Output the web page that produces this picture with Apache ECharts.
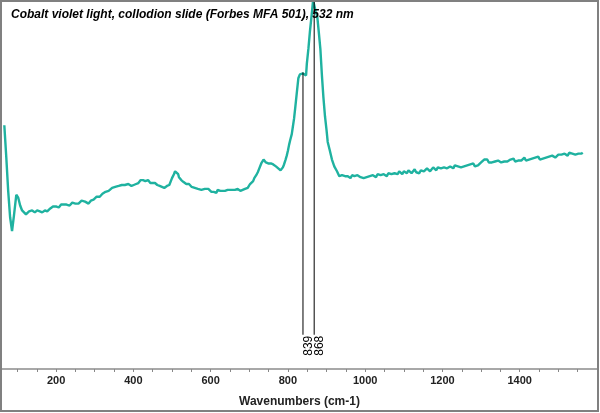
<!DOCTYPE html>
<html>
<head>
<meta charset="utf-8">
<script src="https://cdn.jsdelivr.net/npm/echarts@6/dist/echarts.min.js"></script>
<style>
  html, body { margin: 0; padding: 0; background: #fff; }
  #chart { width: 600px; height: 413px; }
</style>
</head>
<body>
<div id="chart"></div>
<script>
// spectrum: wavenumber (cm-1) and intensity (arbitrary units)
const wavenumbers = [
  66, 71, 76, 81, 86, 91, 97, 102, 107, 112, 117, 122, 126, 130, 134, 138, 142, 145, 149, 151, 155,
  158, 161, 164, 168, 171, 174, 177, 180, 182, 185, 187, 190, 192, 195, 197, 201, 204, 207, 210,
  213, 216, 220, 223, 227, 231, 235, 238, 242, 246, 250, 254, 258, 262, 266, 270, 275, 280, 284,
  287, 290, 293, 297, 301, 305, 309, 313, 316, 320, 324, 328, 332, 336, 340, 345, 349, 353, 358,
  362, 366, 370, 374, 378, 382, 387, 391, 395, 398, 401, 404, 407, 410, 413, 416, 419, 422, 425,
  428, 431, 433, 436, 438, 441, 444, 447, 450, 453, 456, 459, 462, 465, 468, 471, 474, 477, 480,
  484, 487, 490, 493, 497, 500, 503, 505, 508, 510, 513, 516, 518, 521, 524, 526, 530, 533, 537,
  540, 544, 547, 551, 555, 559, 563, 567, 572, 576, 580, 585, 590, 594, 598, 602, 605, 608, 611,
  615, 618, 622, 625, 628, 631, 634, 637, 641, 644, 647, 650, 653, 656, 660, 663, 667, 670, 674,
  677, 680, 683, 686, 689, 693, 696, 699, 702, 705, 707, 710, 713, 716, 718, 720, 722, 725, 728,
  731, 734, 737, 740, 743, 746, 749, 753, 756, 759, 762, 766, 769, 772, 775, 778, 781, 784, 787,
  790, 794, 797, 800, 803, 806, 810, 813, 816, 819, 823, 827, 831, 835, 839, 842, 844, 847, 849,
  853, 857, 861, 865, 868, 872, 876, 880, 884, 888, 892, 896, 900, 903, 908, 914, 920, 927, 933,
  940, 944, 948, 952, 955, 959, 962, 966, 968, 972, 976, 980, 984, 988, 992, 996, 1000, 1004,
  1008, 1012, 1016, 1020, 1024, 1028, 1032, 1036, 1040, 1044, 1048, 1052, 1056, 1060, 1064, 1068,
  1072, 1076, 1080, 1084, 1088, 1092, 1096, 1100, 1104, 1108, 1112, 1116, 1120, 1124, 1128, 1132,
  1136, 1140, 1144, 1148, 1152, 1156, 1160, 1164, 1168, 1172, 1176, 1180, 1184, 1188, 1192, 1196,
  1200, 1204, 1208, 1212, 1216, 1220, 1224, 1228, 1232, 1236, 1240, 1244, 1248, 1252, 1256, 1260,
  1264, 1268, 1272, 1276, 1280, 1284, 1288, 1292, 1296, 1300, 1304, 1308, 1312, 1316, 1320, 1324,
  1328, 1332, 1336, 1340, 1344, 1348, 1352, 1356, 1360, 1364, 1368, 1372, 1376, 1380, 1384, 1388,
  1392, 1396, 1400, 1404, 1408, 1412, 1416, 1420, 1424, 1428, 1432, 1436, 1440, 1444, 1448, 1452,
  1456, 1460, 1464, 1468, 1472, 1476, 1480, 1484, 1488, 1492, 1496, 1500, 1504, 1508, 1512, 1516,
  1520, 1524, 1528, 1532, 1536, 1540, 1544, 1548, 1552, 1556, 1560, 1563
];
const intensities = [
  249, 217, 182, 155, 141, 157, 178, 175, 167, 162, 161, 158, 159, 161, 160, 162, 161, 160, 162, 162, 160,
  161, 163, 160, 161, 162, 160, 161, 163, 162, 164, 163, 165, 166, 167, 168, 166, 167, 165, 166,
  168, 167, 168, 166, 168, 169, 167, 168, 170, 168, 169, 171, 169, 170, 172, 170, 171, 171, 169,
  170, 172, 171, 173, 174, 176, 177, 176, 178, 179, 180, 181, 183, 182, 184, 185, 184, 186, 185,
  187, 186, 188, 187, 188, 186, 189, 188, 187, 189, 188, 190, 189, 191, 190, 192, 193, 195, 193,
  194, 192, 193, 191, 193, 192, 190, 191, 190, 189, 190, 188, 188, 186, 187, 185, 186, 184, 185,
  184, 187, 189, 188, 192, 195, 197, 199, 202, 203, 201, 199, 196, 194, 193, 192, 191, 190, 189,
  188, 189, 187, 186, 186, 185, 186, 184, 182, 183, 181, 184, 183, 184, 182, 181, 183, 181, 182,
  180, 183, 181, 182, 180, 182, 183, 182, 180, 183, 181, 183, 182, 183, 181, 183, 182, 184, 183,
  182, 184, 183, 185, 184, 186, 185, 187, 189, 188, 191, 192, 195, 196, 198, 200, 201, 204, 206,
  210, 212, 214, 214, 211, 212, 210, 209, 210, 208, 209, 208, 207, 206, 205, 204, 203, 204, 206,
  209, 214, 218, 223, 229, 234, 240, 248, 256, 267, 282, 297, 301, 303, 302, 304, 301, 300,
  312, 327, 345, 360, 376, 372, 365, 360, 344, 327, 300, 277, 258, 244, 232, 224, 214, 207, 202,
  197, 198, 196, 197, 195, 197, 196, 195, 198, 196, 197, 195, 198, 197, 196, 198, 195, 197,
  196, 198, 197, 195, 198, 197, 196, 199, 197, 198, 196, 199, 198, 197, 200, 198, 199, 197,
  200, 201, 199, 202, 200, 199, 202, 201, 200, 203, 201, 200, 202, 204, 201, 202, 200, 203,
  204, 202, 203, 205, 203, 202, 204, 206, 204, 203, 206, 204, 205, 203, 206, 207, 205, 204,
  207, 206, 205, 208, 206, 207, 209, 206, 208, 207, 209, 208, 206, 209, 208, 210, 207, 209,
  208, 210, 211, 213, 214, 216, 214, 211, 210, 211, 210, 212, 210, 213, 212, 211, 213, 212,
  214, 212, 211, 214, 213, 215, 212, 214, 213, 215, 213, 214, 216, 213, 215, 214, 216, 215,
  214, 216, 215, 217, 214, 216, 215, 217, 216, 215, 217, 216, 218, 217, 216, 218, 219, 220,
  219, 218, 220, 219, 218, 221, 219, 220, 222, 219, 221, 220, 222, 220, 221, 223, 221, 222,
  221, 223, 222, 221, 224, 222, 223, 222, 224, 223, 225, 224
];

// labelled peaks: position, top of the marker line, bottom of the marker line
const peakPositions = [839, 868];
const peakTops = [303, 376];
const peakBottom = 35;

const xTickValues = [100, 150, 200, 250, 300, 350, 400, 450, 500, 550, 600, 650, 700, 750, 800, 850,
  900, 950, 1000, 1050, 1100, 1150, 1200, 1250, 1300, 1350, 1400, 1450, 1500, 1550];
const xLabelValues = [200, 400, 600, 800, 1000, 1200, 1400];

const titleText = 'Cobalt violet light, collodion slide (Forbes MFA 501), 532 nm';
const font = '"Liberation Sans", Arial, sans-serif';

const chart = echarts.init(document.getElementById('chart'), null, { renderer: 'canvas' });

const spectrum = wavenumbers.map((w, i) => [w, intensities[i]]);
const peaks = peakPositions.map((p, i) => [p, peakTops[i], peakBottom]);

const option = {
  backgroundColor: '#fff',
  animation: false,
  title: {
    text: titleText,
    left: 6,
    top: 4,
    textStyle: {
      fontFamily: font,
      fontSize: 12,
      fontStyle: 'italic',
      fontWeight: 'bold',
      color: '#000'
    }
  },
  grid: { left: 2, right: 3, top: 0, bottom: 36 },
  xAxis: {
    type: 'value',
    min: 60,
    max: 1600,
    name: 'Wavenumbers (cm-1)',
    nameLocation: 'middle',
    nameGap: 27,
    nameTextStyle: { fontFamily: font, fontSize: 12, fontWeight: 'bold', color: '#222' },
    axisLine: { lineStyle: { color: '#a8a8a8', width: 2 } },
    axisTick: {
      customValues: xTickValues,
      length: 3,
      lineStyle: { color: '#888', width: 1 }
    },
    axisLabel: {
      customValues: xLabelValues,
      formatter: function (v) { return String(v); },
      margin: 6,
      fontFamily: font,
      fontSize: 11,
      fontWeight: 'bold',
      color: '#222'
    },
    splitLine: { show: false }
  },
  yAxis: {
    type: 'value',
    min: 0,
    max: 377,
    show: false
  },
  graphic: [{
    type: 'rect',
    shape: { x: 1, y: 1, width: 597, height: 410 },
    style: { fill: null, stroke: '#808080', lineWidth: 2 },
    z: 100
  }],
  series: [
    {
      type: 'line',
      data: spectrum,
      showSymbol: false,
      lineStyle: { color: '#1fb2a0', width: 2.4 },
      z: 3
    },
    {
      type: 'custom',
      data: peaks,
      z: 4,
      renderItem: function (params, api) {
        const top = api.coord([api.value(0), api.value(1)]);
        const bottom = api.coord([api.value(0), api.value(2)]);
        return {
          type: 'group',
          children: [
            {
              type: 'line',
              shape: { x1: top[0], y1: top[1], x2: bottom[0], y2: bottom[1] },
              style: { stroke: '#000', lineWidth: 1 }
            },
            {
              type: 'text',
              x: bottom[0] + 6,
              y: bottom[1] + 1,
              rotation: Math.PI / 2,
              style: {
                text: String(api.value(0)),
                align: 'right',
                verticalAlign: 'middle',
                fontFamily: font,
                fontSize: 12,
                fill: '#000'
              }
            }
          ]
        };
      }
    }
  ]
};

chart.setOption(option);
</script>
</body>
</html>
